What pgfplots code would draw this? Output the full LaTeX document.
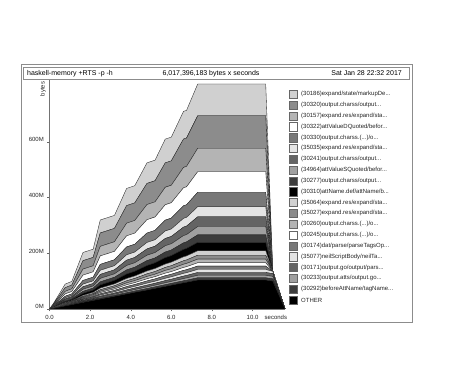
\documentclass[border=0pt]{standalone}
\usepackage{fontspec}
\setmainfont{Liberation Sans}
\usepackage{pgfplots}
\usepackage{pgfplotstable}
\pgfplotsset{compat=1.18}
\definecolor{gk}{HTML}{000000}
\definecolor{g25}{HTML}{3C3C3C}
\definecolor{g40}{HTML}{646464}
\definecolor{g47}{HTML}{787878}
\definecolor{g55}{HTML}{8C8C8C}
\definecolor{g63}{HTML}{A0A0A0}
\definecolor{g70}{HTML}{B4B4B4}
\definecolor{g82}{HTML}{D0D0D0}
\definecolor{g89}{HTML}{E4E4E4}
\definecolor{gw}{HTML}{FFFFFF}
\newcommand{\titfont}{\fontsize{7}{8}\selectfont}
\newcommand{\smfont}{\fontsize{6}{7}\selectfont}
\pgfplotstableread{
t oth a30292 a30233 a30171 a35077 a30174 a30245 a30260 a35027 a35064 a30310 a30277 a34964 a30241 a35035 a30330 a30322 a30157 a30320 a30186
0 0 0 0 0 0 0 0 0 0 0 0 0 0 0 0 0 0 0 0 0
0.2 2.8 0.2 0.2 0.3 0.3 0.3 0.3 0.3 0.4 0.4 0.8 0.7 0.8 0.9 0.9 1.3 1.9 2.1 2.9 2.9
0.5 7 0.6 0.6 0.7 0.8 0.8 0.8 0.9 1.0 1.1 2.1 1.9 2.1 2.5 2.5 3.6 5.2 5.9 8.2 8.0
0.77 11 0.9 1.0 1.1 1.2 1.3 1.3 1.4 1.5 1.7 3.2 3.0 3.4 3.9 4.0 5.8 8.3 9.4 13.1 12.8
1.1 15.7 1.1 1.2 1.3 1.5 1.6 1.6 1.7 1.9 2.1 4.0 3.1 3.5 4.0 4.1 6.0 8.5 9.7 13.5 13.1
1.65 23.5 1.9 2.2 2.4 2.7 2.9 2.9 3.1 3.4 3.9 7.3 7.0 7.7 9.0 9.3 13.4 19.1 21.7 30.2 29.4
2.15 30.6 2.2 2.5 2.8 3.0 3.3 3.3 3.6 3.9 4.4 8.3 7.0 7.7 9.0 9.3 13.4 19.1 21.7 30.2 29.4
2.5 35.6 3.0 3.4 3.8 4.1 4.5 4.5 4.9 5.3 6.0 11.3 11.1 12.3 14.4 14.8 21.3 30.3 34.4 48.0 46.7
3.2 45.6 3.4 3.8 4.2 4.7 5.1 5.1 5.5 5.9 6.8 12.7 11.1 12.3 14.4 14.8 21.3 30.3 34.4 48.0 46.7
3.8 54 4.2 4.8 5.3 5.8 6.4 6.4 6.9 7.4 8.5 15.9 14.6 16.2 18.9 19.4 28.1 40.0 45.4 63.2 61.6
4.2 60 4.5 5.0 5.6 6.1 6.7 6.7 7.3 7.8 8.9 16.7 14.6 16.2 18.9 19.4 28.1 40.0 45.4 63.2 61.6
4.8 68 5.2 5.9 6.5 7.2 7.8 7.8 8.5 9.1 10.4 19.6 17.5 19.4 22.7 23.3 33.7 48.0 54.4 75.8 73.9
5.2 74 5.4 6.1 6.8 7.5 8.2 8.2 8.8 9.5 10.9 20.4 17.5 19.4 22.7 23.3 33.7 48.0 54.4 75.8 73.9
5.7 81 6.1 6.9 7.7 8.4 9.2 9.2 9.9 10.7 12.2 23.0 20.2 22.4 26.2 26.9 38.9 55.4 62.8 87.5 85.3
6.0 85.5 6.3 7.1 7.9 8.6 9.4 9.4 10.2 11.0 12.6 23.6 20.2 22.4 26.2 26.9 38.9 55.4 62.8 87.5 85.3
6.6 94 7.1 8.0 8.9 9.8 10.7 10.7 11.5 12.4 14.2 26.6 23.5 26.1 30.5 31.4 45.3 64.5 73.2 101.9 99.3
6.75 96 7.2 8.1 9.0 9.9 10.8 10.8 11.7 12.6 14.4 26.9 23.5 26.1 30.5 31.4 45.3 64.5 73.2 101.9 99.3
7.3 104 8 9 10 11 12 12 13 14 16 30 27 30 35 36 52 74 84 117 114
8.0 104 8 9 10 11 12 12 13 14 16 30 27 30 35 36 52 74 84 117 114
10.65 104 8 9 10 11 12 12 13 14 16 30 27 30 35 36 52 74 84 117 114
11.0 100 8 9 10 8 0 0 0 0 0 0 0 0 0 0 0 0 0 0 0
11.6 0 0 0 0 0 0 0 0 0 0 0 0 0 0 0 0 0 0 0 0
}\data
\newcommand{\legitem}[3]{%
  \filldraw[fill=#2, draw=black!60, line width=0.3pt] (289,{366-94.2-10.83*#1-4.15}) rectangle ++(8.3,8.3);
  \node[anchor=west, inner sep=0pt, font=\smfont, text=black!85] at (301,{366-94.2-10.83*#1}) {#3};}
\begin{document}
\begin{tikzpicture}[x=1pt,y=1pt]
\path[use as bounding box, fill=white] (0,0) rectangle (474,366);
\draw[black!45, line width=0.6pt] (21,44) rectangle (412,302);
\draw[black!45, line width=0.6pt] (23,287) rectangle (409,299);
\node[anchor=base west, font=\titfont, inner sep=0pt] at (27,290) {haskell-memory +RTS -p -h};
\node[anchor=base, font=\titfont, inner sep=0pt] at (211,290) {6,017,396,183 bytes x seconds};
\node[anchor=base east, font=\titfont, inner sep=0pt] at (402,290) {Sat Jan 28 22:32 2017};
\begin{axis}[
  at={(49.5pt,57pt)}, anchor=south west,
  scale only axis, width=235.5pt, height=229pt,
  xmin=0, xmax=11.6, ymin=0, ymax=822.3,
  stack plots=y,
  axis x line*=bottom, axis y line*=left,
  axis line style={black!55, line width=0.5pt},
  xtick={0,2,4,6,8,10}, xticklabels={0.0,2.0,4.0,6.0,8.0,10.0},
  ytick={0,200,400,600}, yticklabels={0M,200M,400M,600M},
  tick align=outside, major tick length=2.5pt,
  tick style={black!60, line width=0.4pt},
  tick label style={font=\smfont, text=black!85},
  yticklabel style={anchor=base east, inner sep=0pt, xshift=-3pt},
  xticklabel style={anchor=north, inner sep=0pt, yshift=-4pt},
  every axis plot/.append style={draw=black!85, line width=0.35pt},
]
\addplot[fill=gk] table[x=t,y=oth]{\data} \closedcycle;
\addplot[fill=g25] table[x=t,y=a30292]{\data} \closedcycle;
\addplot[fill=g63] table[x=t,y=a30233]{\data} \closedcycle;
\addplot[fill=g40] table[x=t,y=a30171]{\data} \closedcycle;
\addplot[fill=g89] table[x=t,y=a35077]{\data} \closedcycle;
\addplot[fill=g47] table[x=t,y=a30174]{\data} \closedcycle;
\addplot[fill=gw] table[x=t,y=a30245]{\data} \closedcycle;
\addplot[fill=g70] table[x=t,y=a30260]{\data} \closedcycle;
\addplot[fill=g55] table[x=t,y=a35027]{\data} \closedcycle;
\addplot[fill=g82] table[x=t,y=a35064]{\data} \closedcycle;
\addplot[fill=gk] table[x=t,y=a30310]{\data} \closedcycle;
\addplot[fill=g25] table[x=t,y=a30277]{\data} \closedcycle;
\addplot[fill=g63] table[x=t,y=a34964]{\data} \closedcycle;
\addplot[fill=g40] table[x=t,y=a30241]{\data} \closedcycle;
\addplot[fill=g89] table[x=t,y=a35035]{\data} \closedcycle;
\addplot[fill=g47] table[x=t,y=a30330]{\data} \closedcycle;
\addplot[fill=gw] table[x=t,y=a30322]{\data} \closedcycle;
\addplot[fill=g70] table[x=t,y=a30157]{\data} \closedcycle;
\addplot[fill=g55] table[x=t,y=a30320]{\data} \closedcycle;
\addplot[fill=g82] table[x=t,y=a30186]{\data} \closedcycle;
\end{axis}
\node[anchor=west, font=\smfont, inner sep=0pt, text=black!85] at (264.5,49) {seconds};
\node[rotate=90, font=\smfont, inner sep=0pt, text=black!85] at (43,277) {bytes};
\legitem{0}{g82}{(30186)expand/state/markupDe...}
\legitem{1}{g55}{(30320)output.charss/output...}
\legitem{2}{g70}{(30157)expand.res/expand/sta...}
\legitem{3}{gw}{(30322)attValueDQuoted/befor...}
\legitem{4}{g47}{(30330)output.charss.(...)/o...}
\legitem{5}{g89}{(35035)expand.res/expand/sta...}
\legitem{6}{g40}{(30241)output.charss/output...}
\legitem{7}{g63}{(34964)attValueSQuoted/befor...}
\legitem{8}{g25}{(30277)output.charss/output...}
\legitem{9}{gk}{(30310)attName.def/attName/b...}
\legitem{10}{g82}{(35064)expand.res/expand/sta...}
\legitem{11}{g55}{(35027)expand.res/expand/sta...}
\legitem{12}{g70}{(30260)output.charss.(...)/o...}
\legitem{13}{gw}{(30245)output.charss.(...)/o...}
\legitem{14}{g47}{(30174)dat/parse/parseTagsOp...}
\legitem{15}{g89}{(35077)neilScriptBody/neilTa...}
\legitem{16}{g40}{(30171)output.go/output/pars...}
\legitem{17}{g63}{(30233)output.atts/output.go...}
\legitem{18}{g25}{(30292)beforeAttName/tagName...}
\legitem{19}{gk}{OTHER}
\end{tikzpicture}
\end{document}
